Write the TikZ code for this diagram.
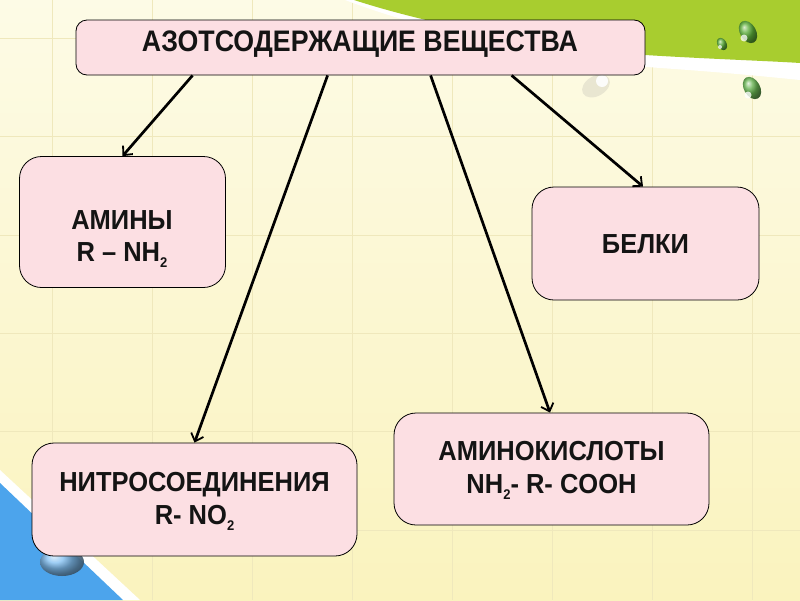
\documentclass[tikz,border=0pt]{standalone}
\usepackage{fontspec}
\setmainfont{Liberation Sans}
\usetikzlibrary{arrows.meta,calc}
\definecolor{bgTop}{HTML}{FDFBE6}
\definecolor{bgBot}{HTML}{FAF3BE}
\definecolor{gridc}{HTML}{EFE8BC}
\definecolor{leaf}{HTML}{A8CD2F}
\definecolor{drop}{HTML}{4FA83A}
\definecolor{sky}{HTML}{4CA4EC}
\definecolor{boxfill}{HTML}{FCDFE3}
\newcommand{\subtwo}{\raisebox{-0.45ex}{\fontsize{13}{13}\selectfont 2}}
\tikzset{
  box/.style={draw=black, line width=0.8pt, fill=boxfill, rounded corners=22pt, inner sep=0pt},
  topbox/.style={box, rounded corners=11pt},
  lbl/.style={font=\bfseries\fontsize{25.5}{30}\selectfont, align=center, inner sep=0pt, text=black!92, yscale=1.08},
  ttl/.style={font=\bfseries\fontsize{28}{30}\selectfont, inner sep=0pt, text=black!92, xscale=0.955, yscale=1.06},
  arr/.style={line width=2.7pt, -{Straight Barb[length=7pt,width=13pt,line width=1.8pt]}},
  gridline/.style={draw=gridc, line width=1pt},
}
\begin{document}
\begin{tikzpicture}[x=1pt,y=-1pt]
\useasboundingbox (0,0) rectangle (800,600);
% background
\shade[top color=bgTop, bottom color=bgBot] (0,0) rectangle (800,600);
\foreach \gx in {52,152,252,352,452,552,652,752} \draw[gridline] (\gx,0) -- (\gx,600);
\foreach \gy in {38,136,235,333,431,530} \draw[gridline] (0,\gy) -- (800,\gy);
% top-right swoosh
\fill[white] (345,0) .. controls (435,34) and (560,60) .. (660,68) .. controls (720,72) and (770,77) .. (800,80) -- (800,0) -- cycle;
\fill[leaf] (354,0) .. controls (440,28) and (560,48) .. (645,55) .. controls (710,59) and (770,61) .. (800,63) -- (800,0) -- cycle;
% drops
\shade[ball color=drop, opacity=0.9, rotate around={30:(748,32)}] (748,32) ellipse (8pt and 12pt);
\fill[white, opacity=0.75] (744,38) circle (3.5pt);
\shade[ball color=drop, opacity=0.9, rotate around={30:(722,44)}] (722,44) ellipse (4.5pt and 6.5pt);
\fill[white, opacity=0.75] (720,47) circle (2pt);
\shade[ball color=drop, opacity=0.9, rotate around={30:(752,88)}] (752,88) ellipse (8pt and 12pt);
\fill[white, opacity=0.8] (748,95) circle (3.5pt);
\fill[black!40, opacity=0.2, rotate around={30:(596,86)}] (596,86) ellipse (15pt and 10pt);
\fill[white, opacity=0.9] (602,81) circle (6pt);
% bottom-left wedge
\fill[white] (0,470) -- (140,600) -- (0,600) -- cycle;
\fill[sky] (0,483) -- (123,600) -- (0,600) -- cycle;
\shade[ball color=sky!65!white, opacity=0.9] (62,562) ellipse (22pt and 14pt);
% boxes
\node[topbox, minimum width=569pt, minimum height=55pt] (top) at (360.5,47.5) {};
\node[ttl] (topt) at (360,44.5) {АЗОТСОДЕРЖАЩИЕ ВЕЩЕСТВА};
\node[box, minimum width=206pt, minimum height=131pt] (amin) at (122.5,222) {};
\node[lbl] (amint) at (122,239) {АМИНЫ\\R – NH\subtwo};
\node[box, minimum width=227pt, minimum height=113pt] (belki) at (645.5,243.5) {};
\node[lbl] (belkit) at (645.5,244.5) {БЕЛКИ};
\node[box, minimum width=315pt, minimum height=112pt] (amino) at (551.5,469) {};
\node[lbl] (aminot) at (551.5,470.5) {АМИНОКИСЛОТЫ\\NH\subtwo- R- COOH};
\node[box, minimum width=325pt, minimum height=113pt] (nitro) at (194.5,499.5) {};
\node[lbl] (nitrot) at (194.5,501.5) {НИТРОСОЕДИНЕНИЯ\\R- NO\subtwo};
% arrows
\draw[arr] ([xshift=117pt]top.south west) -- (amin.north);
\draw[arr] ([xshift=252pt]top.south west) -- (nitro.north);
\draw[arr] ([xshift=355pt]top.south west) -- ([xshift=-1.5pt]amino.north);
\draw[arr] ([xshift=436pt]top.south west) -- ([xshift=-2.5pt]belki.north);
\end{tikzpicture}
\end{document}
